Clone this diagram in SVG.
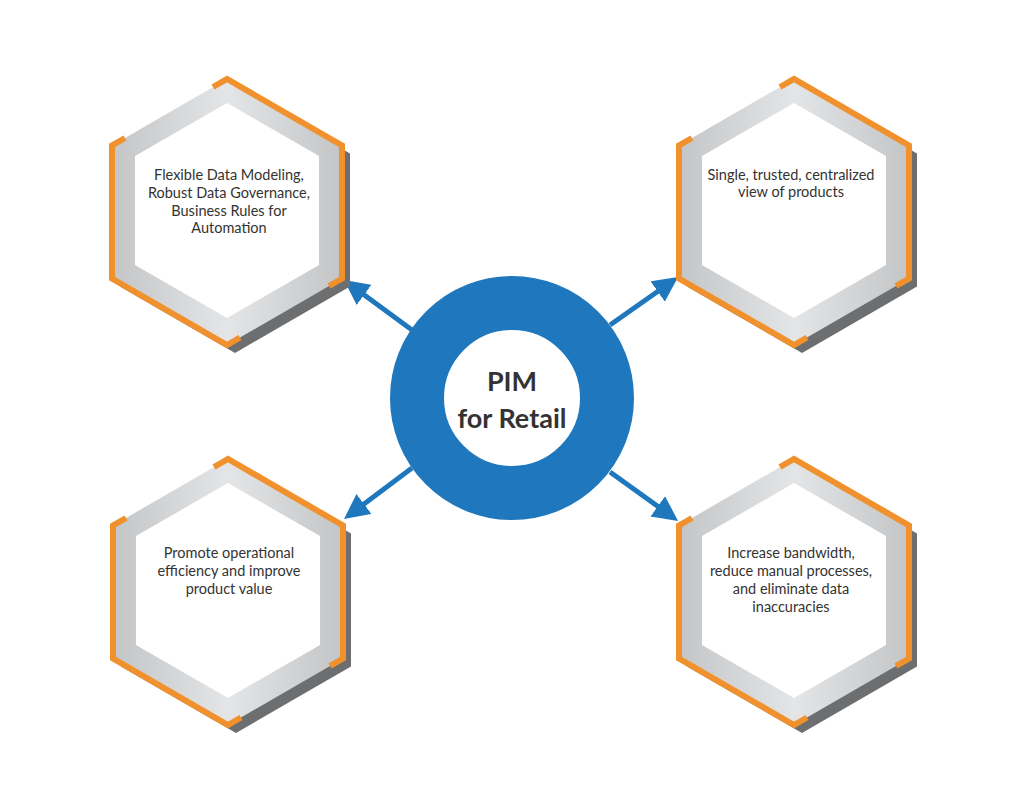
<svg xmlns="http://www.w3.org/2000/svg" width="1024" height="801" viewBox="0 0 1024 801">
<defs>
<linearGradient id="ring" x1="0" y1="0" x2="1" y2="0"><stop offset="0" stop-color="#c4c5c7"/><stop offset="0.5" stop-color="#e4e5e6"/><stop offset="1" stop-color="#c4c5c7"/></linearGradient>
<marker id="ah" viewBox="0 0 10 10" refX="8" refY="5" markerWidth="5" markerHeight="5" orient="auto"><path d="M0,0 L10,5 L0,10 z" fill="#1f78bd"/></marker>
<g id="hex">
<polygon points="8,-125 123,-58.5 123,74.5 8,141 -107,74.5 -107,-58.5" fill="#6d6e70"/>
<polygon points="0,-133 115,-66.5 115,66.5 0,133 -115,66.5 -115,-66.5" fill="url(#ring)"/>
<polyline points="-14,-125 0,-133 115,-66.5 115,66.5 102,74" fill="none" stroke="#f0912d" stroke-width="6"/>
<polyline points="13,125.5 0,133 -115,66.5 -115,-66.5 -102,-74" fill="none" stroke="#f0912d" stroke-width="6"/>
<polygon points="0,-109 92,-56 92,53 0,106 -92,53 -92,-56" fill="#ffffff"/>
</g>
</defs>
<style>.t{font-family:Lato,"Open Sans",sans-serif;font-size:14.5px;fill:#333;text-anchor:middle}</style>
<rect width="1024" height="801" fill="#fff"/>
<g id="connectors" stroke="#1f78bd" stroke-width="5" marker-end="url(#ah)">
<line x1="412" y1="330" x2="348" y2="283"/>
<line x1="610" y1="325" x2="674" y2="280"/>
<line x1="412" y1="468" x2="348" y2="516"/>
<line x1="610" y1="472" x2="674" y2="518"/>
</g>
<g id="center"><circle cx="512" cy="398" r="95" fill="none" stroke="#1f78bd" stroke-width="54"/>
<text x="512" y="391" font-family="Lato,sans-serif" font-weight="bold" font-size="27" fill="#333" text-anchor="middle">PIM</text>
<text x="512" y="428" font-family="Lato,sans-serif" font-weight="bold" font-size="27" fill="#333" text-anchor="middle">for Retail</text></g>
<g id="n1"><use href="#hex" x="227" y="212"/>
<text class="t" x="229" y="180">Flexible Data Modeling,</text><text class="t" x="229" y="198">Robust Data Governance,</text><text class="t" x="229" y="216">Business Rules for</text><text class="t" x="229" y="233">Automation</text></g>
<g id="n2"><use href="#hex" x="794" y="212"/>
<text class="t" x="791" y="180">Single, trusted, centralized</text><text class="t" x="791" y="197">view of products</text></g>
<g id="n3"><use href="#hex" x="228" y="592"/>
<text class="t" x="229" y="558">Promote operational</text><text class="t" x="229" y="576">efficiency and improve</text><text class="t" x="229" y="594">product value</text></g>
<g id="n4"><use href="#hex" x="794" y="592"/>
<text class="t" x="791" y="558">Increase bandwidth,</text><text class="t" x="791" y="576">reduce manual processes,</text><text class="t" x="791" y="594">and eliminate data</text><text class="t" x="791" y="612">inaccuracies</text></g>
</svg>
